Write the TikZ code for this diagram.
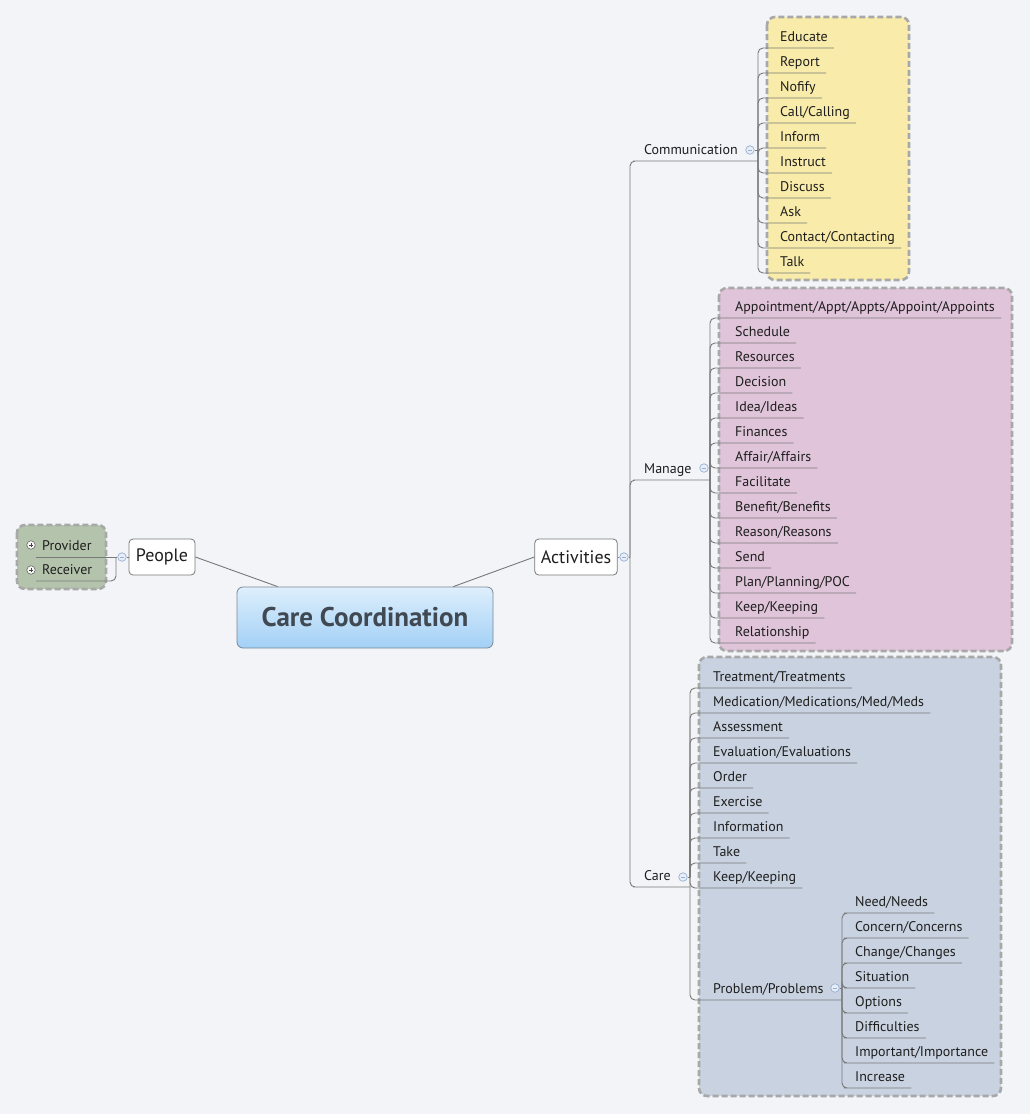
\documentclass[tikz,border=0pt]{standalone}
\usepackage{fontspec}
\setmainfont{PT Sans}
\usetikzlibrary{calc}
\definecolor{bgc}{RGB}{242,244,247}
\definecolor{lineg}{RGB}{120,120,120}
\definecolor{dashg}{RGB}{168,168,168}
\definecolor{txt}{RGB}{30,30,30}
\definecolor{yel}{RGB}{249,236,170}
\definecolor{pnk}{RGB}{224,196,218}
\definecolor{blu}{RGB}{201,210,224}
\definecolor{grn}{RGB}{180,196,172}
\definecolor{colb}{RGB}{150,175,210}
\definecolor{colf}{RGB}{232,238,248}
\definecolor{ctop}{RGB}{222,239,252}
\definecolor{cbot}{RGB}{162,208,246}
\definecolor{cbrd}{RGB}{120,135,150}
\definecolor{ctxt}{RGB}{64,72,82}
\tikzset{
  conn/.style={draw=lineg, line width=0.9pt, rounded corners=5pt},
  tick/.style={draw=lineg, line width=0.9pt},
  leaf/.style={anchor=south west, inner xsep=6pt, inner ysep=0pt, text height=10pt, text depth=6pt, font=\fontsize{14}{16}\selectfont, text=txt},
  grp/.style={draw=dashg, line width=2.6pt, dash pattern=on 6pt off 3pt, rounded corners=8pt},
  topic/.style={draw=lineg, fill=white, rounded corners=4pt, line width=0.8pt, minimum height=36pt, inner xsep=6pt, font=\fontsize{18}{21}\selectfont, text=txt},
  collapse/.style={circle, draw=colb, fill=colf, line width=0.7pt, minimum size=8.5pt, inner sep=0pt,
    path picture={\draw[colb, line width=0.8pt] ([xshift=-2.2pt]path picture bounding box.center) -- ([xshift=2.2pt]path picture bounding box.center);}},
  expand/.style={circle, draw=black!60, fill=white!90!grn, line width=0.6pt, minimum size=8.5pt, inner sep=0pt,
    path picture={\draw[black!75, line width=0.8pt] ([xshift=-2.2pt]path picture bounding box.center) -- ([xshift=2.2pt]path picture bounding box.center) ([yshift=-2.2pt]path picture bounding box.center) -- ([yshift=2.2pt]path picture bounding box.center);}}
}
\begin{document}
\begin{tikzpicture}[x=1pt,y=-1pt]
\fill[bgc] (0,0) rectangle (1030,1114);
\useasboundingbox (0,0) rectangle (1030,1114);
% group boxes
\draw[grp, fill=grn] (17,525) rectangle (106,589);
\draw[grp, fill=yel] (767,17) rectangle (909,280);
\draw[grp, fill=pnk] (719,288) rectangle (1012,651);
\draw[grp, fill=blu] (699,657) rectangle (1001,1096);
% central and main topics
\node[draw=cbrd, top color=ctop, bottom color=cbot, rounded corners=6pt, line width=0.8pt,
  minimum width=256pt, minimum height=61pt, font=\fontsize{27}{31}\selectfont\bfseries, text=ctxt] (cc) at (365,617.5) {Care Coordination};
\node[topic, minimum width=66pt] (ppl) at (162,557) {People};
\node[topic, minimum width=82pt] (act) at (576,557) {Activities};
% left branch
\node[collapse] (pplC) at (122,557) {};
\coordinate (pJ) at (116,557);
\node[leaf] (prov) at (36,557) {Provider};
\node[leaf] (recv) at (36,581) {Receiver};
\node[expand] (provE) at (31,545) {};
\node[expand] (recvE) at (31,570) {};
% right branch
\node[collapse] (actC) at (624,557) {};
\coordinate (aJ) at (630,557);
\node[leaf] (comm) at (638,161) {Communication};
\node[leaf] (man) at (638,480) {Manage};
\node[leaf] (care) at (638,887) {Care};
\node[collapse] (commC) at (750,150) {};
\coordinate (commJ) at (758,150);
\node[collapse] (manC) at (704,468) {};
\coordinate (manJ) at (710,468);
\node[collapse] (careC) at (683,877) {};
\coordinate (careJ) at (690,877);
\node[leaf] (prob) at (707,1000) {Problem/Problems};
\node[collapse] (probC) at (835,988) {};
\coordinate (probJ) at (842,988);
% connectors central
\draw[tick] ($(cc.north west)!0.16!(cc.north east)$) -- (ppl.east);
\draw[tick] ($(cc.north west)!0.844!(cc.north east)$) -- (act.west);
\draw[tick] (ppl.west) -- (pplC);
\draw[tick] (pplC) -- (pJ);
\draw[conn] (pJ) -- (prov.south west);
\draw[conn] (pJ) |- (recv.south west);
\draw[tick] (act.east) -- (actC);
\draw[tick] (actC) -- (aJ);
\draw[conn] (aJ) |- (comm.south west) -- (commJ |- comm.south);
\draw[conn] (aJ) |- (man.south west) -- (manJ |- man.south);
\draw[conn] (aJ) |- (care.south west) -- (careJ |- care.south);
\draw[tick] (commC) -- (commJ);
\draw[tick] (manC) -- (manJ);
\draw[tick] (careC) -- (careJ);
\draw[tick] (probC) -- (probJ);
\draw[conn] (careJ) |- (prob.south west) -- (probJ |- prob.south);
% communication leaves
\foreach \t [count=\i] in {Educate, Report, Nofify, {Call/Calling}, Inform, Instruct, Discuss, Ask, {Contact/Contacting}, Talk}{
  \node[leaf] (c\i) at (774,{48+25*(\i-1)}) {\t};
  \draw[conn] (commJ) |- (c\i.south west) -- (c\i.south east);
}
% manage leaves
\foreach \t [count=\i] in {{Appointment/Appt/Appts/Appoint/Appoints}, Schedule, Resources, Decision, {Idea/Ideas}, Finances, {Affair/Affairs}, Facilitate, {Benefit/Benefits}, {Reason/Reasons}, Send, {Plan/Planning/POC}, {Keep/Keeping}, Relationship}{
  \node[leaf] (m\i) at (729,{318+25*(\i-1)}) {\t};
  \draw[conn] (manJ) |- (m\i.south west) -- (m\i.south east);
}
% care leaves
\foreach \t [count=\i] in {{Treatment/Treatments}, {Medication/Medications/Med/Meds}, Assessment, {Evaluation/Evaluations}, Order, Exercise, Information, Take, {Keep/Keeping}}{
  \node[leaf] (k\i) at (707,{688+25*(\i-1)}) {\t};
  \draw[conn] (careJ) |- (k\i.south west) -- (k\i.south east);
}
% problem leaves
\foreach \t [count=\i] in {{Need/Needs}, {Concern/Concerns}, {Change/Changes}, Situation, Options, Difficulties, {Important/Importance}, Increase}{
  \node[leaf] (p\i) at (849,{913+25*(\i-1)}) {\t};
  \draw[conn] (probJ) |- (p\i.south west) -- (p\i.south east);
}
\end{tikzpicture}
\end{document}
